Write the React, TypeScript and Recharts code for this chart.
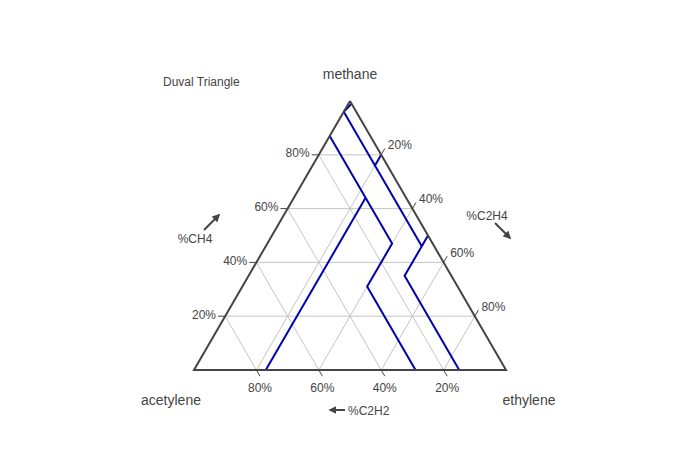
import React from 'react';
import { ScatterChart, Scatter, XAxis, YAxis } from 'recharts';

// ---- data (ternary: a = CH4 %, b = C2H2 %, c = C2H4 %) ----
const gridLevels = [20, 40, 60, 80];
const tickLabels = ['20%', '40%', '60%', '80%'];
const cornerNames = ['methane', 'acetylene', 'ethylene'];

const zonePD_a = [96, 99];
const zonePD_b = [4, 0];
const zonePD_c = [0, 1];

const zoneT1_a = [80, 76];
const zoneT1_b = [0, 4];
const zoneT1_c = [20, 20];

const zoneT2_a = [96, 46];
const zoneT2_b = [4, 4];
const zoneT2_c = [0, 50];

const zoneT3_a = [50, 35, 0];
const zoneT3_b = [0, 15, 15];
const zoneT3_c = [50, 50, 85];

const zoneD1_a = [87, 47, 31, 0];
const zoneD1_b = [13, 13, 29, 29];
const zoneD1_c = [0, 40, 40, 71];

const zoneD2_a = [0, 64];
const zoneD2_b = [77, 13];
const zoneD2_c = [23, 23];

const zones = [
  { a: zonePD_a, b: zonePD_b, c: zonePD_c },
  { a: zoneT1_a, b: zoneT1_b, c: zoneT1_c },
  { a: zoneT2_a, b: zoneT2_b, c: zoneT2_c },
  { a: zoneT3_a, b: zoneT3_b, c: zoneT3_c },
  { a: zoneD1_a, b: zoneD1_b, c: zoneD1_c },
  { a: zoneD2_a, b: zoneD2_b, c: zoneD2_c },
];

const H = Math.sqrt(3) / 2;
const toXY = (a: number, b: number, c: number) => {
  const s = a + b + c;
  return { x: (100 * (c + a / 2)) / s, y: (100 * a * H) / s };
};

const FONT = '"Liberation Sans", Arial, sans-serif';
const TXT = '#444';
const GRID = '#c4c4c4';
const BLUE = '#0000b0';
const TICK = 2.3; // tick length in data units

// plot geometry: triangle base 194..506 px, apex 101 px, base 370 px
const PAD = 10;
const KX = 312 / 100;
const KY = 269 / (100 * H);
const MARGIN = {
  left: 194 - PAD * KX,
  right: 700 - 506 - PAD * KX,
  top: 101 - PAD * KY,
  bottom: 450 - 370 - PAD * KY,
};

const Nothing = () => <g />;

// grid lines
const gridA = gridLevels.map((v) => [toXY(v, 100 - v, 0), toXY(v, 0, 100 - v)]);
const gridB = gridLevels.map((v) => [toXY(100 - v, v, 0), toXY(0, v, 100 - v)]);
const gridC = gridLevels.map((v) => [toXY(0, 100 - v, v), toXY(100 - v, 0, v)]);

// ticks
const ticksA = gridLevels.map((v, i) => {
  const p = toXY(v, 100 - v, 0);
  return { line: [p, { x: p.x - TICK, y: p.y }], label: tickLabels[i] };
});
const ticksB = gridLevels.map((v, i) => {
  const p = toXY(0, v, 100 - v);
  return { line: [p, { x: p.x + TICK * 0.5, y: p.y - TICK * H }], label: tickLabels[i] };
});
const ticksC = gridLevels.map((v, i) => {
  const p = toXY(100 - v, 0, v);
  return { line: [p, { x: p.x + TICK * 0.5, y: p.y + TICK * H }], label: tickLabels[i] };
});

const edge = [toXY(100, 0, 0), toXY(0, 0, 100), toXY(0, 100, 0), toXY(100, 0, 0)];

const labelShape = (dx: number, dy: number, anchor: string) => (props: any) => {
  const { cx, cy, payload } = props;
  return (
    <text x={cx + dx} y={cy + dy} textAnchor={anchor} fontSize={12} fill={TXT} fontFamily={FONT}>
      {payload.label}
    </text>
  );
};

export default function App() {
  return (
    <div style={{ position: 'absolute', left: 0, top: 0, width: 700, height: 450, background: '#fff' }}>
      <ScatterChart width={700} height={450} margin={MARGIN}>
        <XAxis type="number" dataKey="x" domain={[-PAD, 100 + PAD]} allowDataOverflow hide />
        <YAxis type="number" dataKey="y" domain={[-PAD, 100 * H + PAD]} allowDataOverflow hide />
        {[...gridA, ...gridB, ...gridC].map((seg, i) => (
          <Scatter key={'g' + i} data={seg} line={{ stroke: GRID, strokeWidth: 1 }} shape={Nothing} isAnimationActive={false} legendType="none" />
        ))}
        {[...ticksA, ...ticksB, ...ticksC].map((t, i) => (
          <Scatter key={'t' + i} data={t.line} line={{ stroke: TXT, strokeWidth: 1 }} shape={Nothing} isAnimationActive={false} legendType="none" />
        ))}
        <Scatter data={ticksA.map((t) => ({ ...t.line[1], label: t.label }))} shape={labelShape(-2, 2.6, 'end')} isAnimationActive={false} legendType="none" />
        <Scatter data={ticksB.map((t) => ({ ...t.line[1], label: t.label }))} shape={labelShape(0, 16, 'middle')} isAnimationActive={false} legendType="none" />
        <Scatter data={ticksC.map((t) => ({ ...t.line[1], label: t.label }))} shape={labelShape(3, 0.5, 'start')} isAnimationActive={false} legendType="none" />
        {zones.map((z, i) => (
          <Scatter
            key={'z' + i}
            data={z.a.map((a, j) => toXY(a, z.b[j], z.c[j]))}
            line={{ stroke: BLUE, strokeWidth: 2 }}
            shape={Nothing}
            isAnimationActive={false}
            legendType="none"
          />
        ))}
        <Scatter data={edge} line={{ stroke: TXT, strokeWidth: 2 }} shape={Nothing} isAnimationActive={false} legendType="none" />
      </ScatterChart>
      <svg width={700} height={450} style={{ position: 'absolute', left: 0, top: 0, pointerEvents: 'none' }}>
        <defs>
          <marker id="ah" viewBox="0 0 10 10" refX="8" refY="5" markerWidth="4" markerHeight="4" orient="auto">
            <path d="M0,0 L10,5 L0,10 z" fill={TXT} />
          </marker>
        </defs>
        <text x={163} y={86} fontSize={12} fill={TXT} fontFamily={FONT}>Duval Triangle</text>
        <text x={350} y={79} fontSize={14} fill={TXT} fontFamily={FONT} textAnchor="middle">{cornerNames[0]}</text>
        <text x={171} y={405} fontSize={14} fill={TXT} fontFamily={FONT} textAnchor="middle">{cornerNames[1]}</text>
        <text x={529} y={405} fontSize={14} fill={TXT} fontFamily={FONT} textAnchor="middle">{cornerNames[2]}</text>
        <text x={195} y={243} fontSize={12} fill={TXT} fontFamily={FONT} textAnchor="middle">%CH4</text>
        <line x1={204} y1={230} x2={219} y2={215} stroke={TXT} strokeWidth={2} markerEnd="url(#ah)" />
        <text x={487} y={220} fontSize={12} fill={TXT} fontFamily={FONT} textAnchor="middle">%C2H4</text>
        <line x1={495} y1={223} x2={510} y2={238} stroke={TXT} strokeWidth={2} markerEnd="url(#ah)" />
        <text x={348} y={415} fontSize={12} fill={TXT} fontFamily={FONT} textAnchor="start">%C2H2</text>
        <line x1={345} y1={410} x2={330} y2={410} stroke={TXT} strokeWidth={2} markerEnd="url(#ah)" />
      </svg>
    </div>
  );
}
